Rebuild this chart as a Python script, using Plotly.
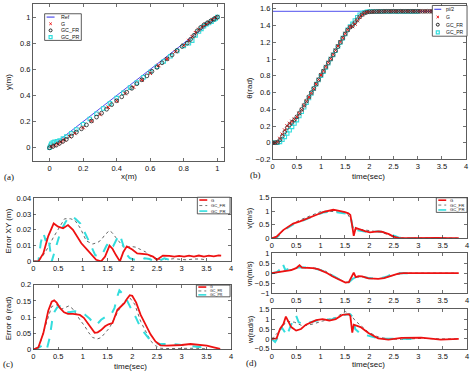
import plotly.graph_objects as go

W, H = 474, 376

# ---------------- data ----------------
# (a) trajectory
A_REF_X = [0, 1]
A_REF_Y = [0, 1]
A_G_X = [0.01,0.03,0.05,0.07,0.09,0.12,0.15,0.2,0.25,0.3,0.35,0.4,0.45,0.5,0.55,0.6,0.65,0.7,0.75,0.8,0.83,0.85,0.87,0.89,0.91,0.93,0.95,0.97,0.99]
A_G_Y = [0.01,0.02,0.03,0.045,0.06,0.085,0.11,0.155,0.205,0.255,0.31,0.36,0.415,0.465,0.52,0.57,0.63,0.68,0.735,0.785,0.82,0.85,0.88,0.905,0.925,0.945,0.96,0.98,0.995]
A_FR_X = [0.00,0.02,0.04,0.06,0.08,0.10,0.13,0.16,0.19,0.22,0.25,0.28,0.31,0.34,0.37,0.40,0.43,0.46,0.49,0.52,0.55,0.58,0.61,0.64,0.67,0.70,0.73,0.76,0.79,0.82,0.84,0.86,0.88,0.90,0.92,0.94,0.96,0.98,1.00]
A_FR_Y = [0.00,0.01,0.02,0.035,0.05,0.065,0.09,0.12,0.145,0.175,0.205,0.235,0.265,0.295,0.33,0.36,0.39,0.425,0.455,0.49,0.52,0.55,0.585,0.615,0.65,0.68,0.71,0.745,0.775,0.80,0.83,0.86,0.895,0.92,0.94,0.955,0.97,0.985,1.00]
A_PR_X = [0,0.005,0.01,0.02,0.03,0.045,0.06,0.08,0.1,0.13,0.16,0.2,0.24,0.28,0.32,0.36,0.4,0.44,0.48,0.52,0.56,0.6,0.64,0.68,0.72,0.76,0.8,0.83,0.85,0.87,0.89,0.905,0.92,0.935,0.95,0.965,0.98,0.99,1.0]
A_PR_Y = [0,0.015,0.03,0.04,0.045,0.05,0.055,0.07,0.085,0.11,0.14,0.18,0.22,0.26,0.3,0.34,0.38,0.42,0.46,0.5,0.54,0.58,0.62,0.66,0.7,0.74,0.78,0.8,0.82,0.86,0.89,0.91,0.93,0.945,0.955,0.965,0.98,0.99,1.0]

# (b) orientation
B_T = [0.00,0.05,0.10,0.15,0.20,0.25,0.30,0.35,0.40,0.45,0.50,0.55,0.60,0.65,0.70,0.75,0.80,0.85,0.90,0.95,
       1.00,1.05,1.10,1.15,1.20,1.25,1.30,1.35,1.40,1.45,1.50,1.55,1.60,1.65,1.70,1.75,1.80,1.85,1.90,1.95,
       2.00,2.05,2.10,2.15,2.20,2.25,2.30,2.35,2.40,2.45,2.50,2.55,2.60,2.65,2.70,2.75,2.80,2.85,2.90,2.95,
       3.00,3.05,3.10,3.15,3.20,3.25,3.30,3.35,3.40,3.45,3.50]
B_REF_T = [0, 3.8]
B_REF = [1.5708, 1.5708]
B_G = [0,0,0.01,0.05,0.1,0.15,0.2,0.23,0.255,0.28,0.31,0.35,0.395,0.445,0.495,0.545,0.595,0.645,0.70,0.755,
       0.81,0.86,0.91,0.96,1.005,1.055,1.105,1.155,1.205,1.255,1.305,1.35,1.38,1.39,1.42,1.46,1.50,1.53,1.55,1.56,
       1.565,1.566,1.567,1.568,1.568,1.569,1.569,1.57,1.57,1.57,1.571,1.57,1.57,1.571,1.57,1.571,1.57,1.57,1.571,1.57,
       1.57,1.571,1.57,1.57,1.571,1.57,1.571,1.57,1.57,1.571,1.57]
B_FR = [0,0,0.005,0.035,0.08,0.13,0.18,0.215,0.245,0.275,0.31,0.355,0.40,0.45,0.50,0.55,0.60,0.65,0.70,0.755,
        0.81,0.855,0.905,0.955,1.00,1.05,1.10,1.15,1.20,1.25,1.30,1.345,1.38,1.40,1.435,1.47,1.505,1.53,1.55,1.56,
        1.565,1.567,1.568,1.568,1.569,1.569,1.57,1.57,1.57,1.57,1.571,1.57,1.57,1.571,1.57,1.57,1.571,1.57,1.571,1.57,
        1.57,1.571,1.57,1.57,1.571,1.57,1.57,1.571,1.57,1.57,1.57]
B_PR = [0,0,0,0.01,0.035,0.07,0.11,0.15,0.19,0.23,0.27,0.32,0.37,0.425,0.48,0.535,0.59,0.645,0.70,0.75,
        0.80,0.85,0.90,0.95,1.00,1.05,1.10,1.15,1.20,1.25,1.30,1.35,1.39,1.42,1.46,1.50,1.53,1.55,1.56,1.565,
        1.567,1.568,1.568,1.569,1.57,1.57,1.57,1.571,1.57,1.57,1.571,1.57,1.57,1.571,1.57,1.57,1.571,1.57,1.57,1.571,
        1.57]

# (c) errors
C_XY_G_T = [0,0.1,0.2,0.3,0.41,0.5,0.6,0.7,0.8,0.97,1.1,1.27,1.37,1.45,1.54,1.6,1.67,1.75,1.82,1.89,2.0,2.1,2.3,2.42,2.5,2.62,2.75,2.85,2.95,3.05,3.15,3.25,3.35,3.45,3.55,3.65,3.75,3.8]
C_XY_G = [0,0,0.005,0.016,0.024,0.022,0.021,0.023,0.02,0.0115,0.007,0.001,0,0.003,0.01,0.008,0.004,0,0.006,0.0095,0.0075,0.005,0.0045,0.003,0.001,0.0037,0.0035,0.003,0.0035,0.003,0.0036,0.003,0.0037,0.003,0.0036,0.0032,0.0038,0.0037]
C_XY_FR_T = [0,0.1,0.2,0.3,0.4,0.5,0.63,0.75,0.84,0.95,1.07,1.2,1.3,1.37,1.45,1.54,1.6,1.67,1.75,1.84,1.97,2.07,2.17,2.27,2.37,2.47,2.57,2.7,2.84,3.0,3.1,3.25,3.38,3.5]
C_XY_FR = [0,0,0.004,0.009,0.015,0.02,0.027,0.027,0.026,0.021,0.013,0.011,0.012,0.0135,0.017,0.0195,0.018,0.015,0.012,0.0085,0.0095,0.009,0.0075,0.006,0.003,0.002,0.001,0.0012,0.0017,0.0012,0.001,0.0015,0.0015,0.001]
C_XY_PR_T = [0,0.1,0.15,0.2,0.25,0.3,0.37,0.45,0.55,0.65,0.72,0.8,0.85,0.95,1.05,1.15,1.25,1.32,1.4,1.48,1.55,1.62,1.7,1.75,1.8,1.87,1.95,2.05,2.15,2.25,2.35,2.45,2.55,2.65,2.75,2.85]
C_XY_PR = [0,0,0.012,0.018,0.013,0.016,0,0.009,0.019,0.025,0.028,0.028,0.027,0.024,0.018,0.011,0.004,0.003,0.005,0.01,0.013,0.01,0.015,0.017,0.012,0.005,0.002,0.001,0.0005,0.002,0.0015,0,0.0005,0.002,0.001,0]

C_TH_G_T = [0,0.1,0.2,0.3,0.37,0.42,0.47,0.54,0.62,0.7,0.8,0.94,1.02,1.1,1.17,1.24,1.3,1.37,1.45,1.52,1.6,1.65,1.7,1.77,1.84,1.9,1.95,2.0,2.08,2.17,2.27,2.37,2.47,2.57,2.7,2.84,3.0,3.18,3.35,3.51,3.65,3.78]
C_TH_G = [0,0.007,0.05,0.12,0.148,0.152,0.145,0.128,0.115,0.11,0.11,0.107,0.098,0.08,0.065,0.052,0.053,0.06,0.072,0.078,0.082,0.1,0.123,0.133,0.143,0.158,0.168,0.166,0.145,0.107,0.075,0.047,0.025,0.013,0.012,0.012,0.014,0.017,0.015,0.012,0.007,0.002]
C_TH_FR_T = [0,0.1,0.23,0.37,0.47,0.57,0.65,0.72,0.8,0.87,0.95,1.04,1.12,1.2,1.3,1.37,1.45,1.54,1.6,1.67,1.75,1.84,1.9,1.95,2.05,2.17,2.27,2.37,2.47,2.57,2.7,2.9,3.1,3.3,3.5]
C_TH_FR = [0,0.002,0.067,0.133,0.138,0.125,0.13,0.135,0.125,0.107,0.09,0.072,0.052,0.037,0.033,0.037,0.05,0.067,0.085,0.107,0.128,0.148,0.158,0.16,0.14,0.087,0.055,0.027,0.012,0.004,0.003,0.004,0.003,0.004,0.002]
C_TH_PR_T = [0,0.1,0.17,0.22,0.27,0.33,0.38,0.43,0.48,0.54,0.6,0.64,0.72,0.84,0.95,1.04,1.14,1.24,1.3,1.37,1.45,1.5,1.58,1.64,1.7,1.74,1.79,1.84,1.9,1.97,2.07,2.17,2.27,2.37,2.47,2.57,2.7,2.84,3.0,3.1,3.25,3.38,3.5]
C_TH_PR = [0,0.005,0.012,0.01,0,0.037,0.09,0.118,0.13,0.133,0.125,0.118,0.115,0.118,0.115,0.108,0.095,0.077,0.08,0.092,0.1,0.102,0.11,0.128,0.165,0.183,0.175,0.163,0.15,0.128,0.1,0.067,0.045,0.027,0.02,0.017,0.017,0.017,0.014,0.012,0.01,0.007,0.005]

# (d) velocities
D_V_G_T = [0,0.1,0.235,0.37,0.44,0.58,0.64,0.78,0.84,1.01,1.05,1.18,1.26,1.31,1.43,1.5,1.57,1.61,1.65,1.68,1.72,1.8,1.91,2.01,2.1,2.18,2.25,2.32,2.4,2.49,2.56,2.63,2.8,3.0,3.2,3.4,3.6,3.83]
D_V_G = [0,0.06,0.3,0.45,0.54,0.62,0.66,0.76,0.79,0.93,0.96,1.03,1.05,1.04,1.0,0.96,0.92,0.86,0.45,0.09,0.38,0.32,0.26,0.22,0.24,0.25,0.24,0.2,0.15,0.06,0.02,0,0,0.01,0,0.01,0,0]
D_V_FR_T = [0,0.1,0.25,0.4,0.55,0.7,0.85,1.0,1.1,1.2,1.3,1.45,1.55,1.62,1.68,1.73,1.8,1.95,2.1,2.25,2.4,2.55,2.7,3.0,3.3,3.6,3.8]
D_V_FR = [0,0.05,0.3,0.5,0.65,0.77,0.88,0.98,1.0,1.0,0.98,0.93,0.9,0.7,0.3,0.35,0.33,0.3,0.27,0.22,0.12,0.04,0.01,0,0.01,0,0]
D_V_PR_T = [0,0.1,0.2,0.3,0.45,0.6,0.75,0.9,1.05,1.2,1.3,1.45,1.55,1.62,1.66,1.7,1.75,1.85,2.0,2.1,2.2,2.3,2.4,2.5,2.6,2.7,2.9]
D_V_PR = [0,0.03,0.2,0.35,0.52,0.62,0.72,0.84,0.95,0.98,0.97,0.93,0.9,0.8,0.35,0.2,0.3,0.27,0.22,0.25,0.25,0.22,0.15,0.08,0.03,0,0]

D_VN_G_T = [0,0.15,0.3,0.4,0.5,0.57,0.62,0.7,0.84,0.95,1.04,1.14,1.24,1.35,1.45,1.51,1.58,1.64,1.68,1.72,1.78,1.85,1.98,2.1,2.18,2.3,2.39,2.5,2.59,2.7,2.79,3.0,3.3,3.6,3.83]
D_VN_G = [0,0.05,0.11,0.15,0.25,0.4,0.28,0.27,0.25,0.2,0.12,0.0,-0.15,-0.28,-0.4,-0.47,-0.45,-0.2,0.03,-0.2,-0.15,-0.16,-0.26,-0.27,-0.28,-0.25,-0.18,-0.1,-0.02,0,0,0,0,0,0]
D_VN_FR_T = [0,0.2,0.4,0.55,0.7,0.9,1.1,1.3,1.5,1.58,1.66,1.75,1.9,2.1,2.3,2.5,2.7,3.0,3.5,3.8]
D_VN_FR = [0,0.08,0.18,0.28,0.3,0.25,0.1,-0.18,-0.45,-0.45,-0.25,-0.2,-0.18,-0.27,-0.25,-0.1,0,0,0,0]
D_VN_PR_T = [0,0.1,0.17,0.22,0.28,0.35,0.45,0.55,0.7,0.9,1.1,1.3,1.51,1.58,1.65,1.72,1.85,2.0,2.2,2.35,2.45,2.55,2.65,2.9]
D_VN_PR = [0,0.05,0.19,0.5,0.15,0.23,0.25,0.3,0.28,0.22,0.08,-0.2,-0.48,-0.45,-0.3,-0.2,-0.17,-0.25,-0.27,-0.18,-0.05,0.03,0,0]

D_W_G_T = [0,0.1,0.17,0.24,0.29,0.4,0.5,0.6,0.7,0.91,1.04,1.18,1.31,1.45,1.58,1.61,1.65,1.68,1.82,1.98,2.18,2.39,2.66,3.06,3.46,3.83]
D_W_G = [0,0.03,0.5,0.75,1.13,0.6,0.42,0.5,0.72,0.95,1.0,0.93,1.0,1.22,1.25,1.16,0.32,0.72,0.6,0.3,0.03,-0.03,0.05,0.07,-0.03,0]
D_W_FR_T = [0,0.17,0.3,0.47,0.64,0.84,1.04,1.31,1.51,1.61,1.71,1.85,1.98,2.18,2.39,2.66,3.06,3.46,3.8]
D_W_FR = [0,0.43,0.9,0.84,0.65,0.75,0.9,1.08,1.38,1.25,0.92,0.6,0.34,0.1,0,-0.02,0.03,0.0,0]
D_W_PR_T = [0,0.07,0.13,0.2,0.27,0.31,0.37,0.44,0.5,0.55,0.64,0.77,0.97,1.24,1.45,1.61,1.67,1.71,1.76,1.82,1.95,2.12,2.32,2.52,2.79,2.9]
D_W_PR = [0,-0.15,0.1,0.6,0.34,0.15,0.55,0.95,1.18,0.85,0.75,0.84,0.95,1.0,1.22,1.24,1.08,0.5,0.4,0.26,0.18,0.07,0.02,0.02,0,0]

X_TICKS_T = [0, 0.5, 1, 1.5, 2, 2.5, 3, 3.5, 4]

# ---------------- style ----------------
RED = "#ee1111"
CYAN = "#33dddd"
GRAY = "#666666"
BLUE = "#5050ee"
FONT = "Liberation Sans, Arial, sans-serif"
SERIF = "Liberation Serif, Times New Roman, serif"
TICK_FS = 7.5

def dxr(a, b):
    return [a / W, b / W]

def dyr(top, bot):
    return [1 - bot / H, 1 - top / H]

def axstyle(**kw):
    d = dict(showline=True, linecolor="#333", linewidth=0.8, mirror="allticks",
             ticks="inside", ticklen=3, tickwidth=0.7, tickcolor="#333",
             showgrid=False, zeroline=False,
             tickfont=dict(family=FONT, size=TICK_FS, color="#111"))
    d.update(kw)
    return d

fig = go.Figure()

def line(x, y, xa, ya, color, width, dash="solid"):
    fig.add_trace(go.Scatter(x=x, y=y, xaxis=xa, yaxis=ya, mode="lines",
                             line=dict(color=color, width=width, dash=dash),
                             showlegend=False, hoverinfo="skip"))

def mark(x, y, xa, ya, symbol, color, size, lw=0.8):
    fig.add_trace(go.Scatter(x=x, y=y, xaxis=xa, yaxis=ya, mode="markers",
                             marker=dict(symbol=symbol, size=size, color=color,
                                         line=dict(color=color, width=lw)),
                             showlegend=False, hoverinfo="skip"))

# (a)
line(A_REF_X, A_REF_Y, "x", "y", BLUE, 1)
mark(A_PR_X, A_PR_Y, "x", "y", "square-open", CYAN, 3.5, 1.1)
mark(A_G_X, A_G_Y, "x", "y", "x-thin-open", RED, 3.5, 1)
mark(A_FR_X, A_FR_Y, "x", "y", "circle-open", "#222", 3.8, 0.8)

# (b)
line(B_REF_T, B_REF, "x2", "y2", BLUE, 1)
mark(B_T[:len(B_PR)], B_PR, "x2", "y2", "square-open", CYAN, 3.5, 1.1)
mark(B_T, B_G, "x2", "y2", "x-thin-open", RED, 3.5, 1)
mark(B_T, B_FR, "x2", "y2", "circle-open", "#333", 3.8, 0.7)

# (c)
line(C_XY_FR_T, C_XY_FR, "x3", "y3", GRAY, 1, "dot")
line(C_XY_PR_T, C_XY_PR, "x3", "y3", CYAN, 2, "dash")
line(C_XY_G_T, C_XY_G, "x3", "y3", RED, 1.8)
line(C_TH_FR_T, C_TH_FR, "x4", "y4", GRAY, 1, "dot")
line(C_TH_PR_T, C_TH_PR, "x4", "y4", CYAN, 2, "dash")
line(C_TH_G_T, C_TH_G, "x4", "y4", RED, 1.8)

# (d)
for xa, ya, (gt, g, ft, f, pt, p) in [
    ("x5", "y5", (D_V_G_T, D_V_G, D_V_FR_T, D_V_FR, D_V_PR_T, D_V_PR)),
    ("x6", "y6", (D_VN_G_T, D_VN_G, D_VN_FR_T, D_VN_FR, D_VN_PR_T, D_VN_PR)),
    ("x7", "y7", (D_W_G_T, D_W_G, D_W_FR_T, D_W_FR, D_W_PR_T, D_W_PR)),
]:
    line(ft, f, xa, ya, GRAY, 1, "dot")
    line(pt, p, xa, ya, CYAN, 2, "dash")
    line(gt, g, xa, ya, RED, 1.8)

lay = dict(width=W, height=H, margin=dict(l=0, r=0, t=0, b=0),
           paper_bgcolor="white", plot_bgcolor="white", showlegend=False)

lay["xaxis"] = axstyle(domain=dxr(31, 224), range=[-0.1, 1.04], anchor="y",
                       tickvals=[0, 0.2, 0.4, 0.6, 0.8, 1])
lay["yaxis"] = axstyle(domain=dyr(0, 160.7), range=[-0.1, 1.1], anchor="x",
                       tickvals=[0, 0.2, 0.4, 0.6, 0.8, 1])
lay["xaxis2"] = axstyle(domain=dxr(273, 468), range=[0, 4], anchor="y2", tickvals=X_TICKS_T)
lay["yaxis2"] = axstyle(domain=dyr(0, 159.3), range=[-0.2, 1.658], anchor="x2",
                        tickvals=[-0.2, 0, 0.2, 0.4, 0.6, 0.8, 1, 1.2, 1.4, 1.6])
lay["xaxis3"] = axstyle(domain=dxr(31.7, 231), range=[0, 4], anchor="y3", tickvals=X_TICKS_T)
lay["yaxis3"] = axstyle(domain=dyr(199, 263.7), range=[0, 0.04], anchor="x3",
                        tickvals=[0, 0.01, 0.02, 0.03, 0.04])
lay["xaxis4"] = axstyle(domain=dxr(31.7, 231), range=[0, 4], anchor="y4", tickvals=X_TICKS_T)
lay["yaxis4"] = axstyle(domain=dyr(287.7, 354), range=[0, 0.2], anchor="x4",
                        tickvals=[0, 0.05, 0.1, 0.15, 0.2])
DX = dxr(272, 469)
lay["xaxis5"] = axstyle(domain=DX, range=[0, 4], anchor="y5", tickvals=X_TICKS_T)
lay["yaxis5"] = axstyle(domain=dyr(198.3, 240), range=[0, 1.5], anchor="x5",
                        tickvals=[0, 0.5, 1, 1.5])
lay["xaxis6"] = axstyle(domain=DX, range=[0, 4], anchor="y6", tickvals=X_TICKS_T)
lay["yaxis6"] = axstyle(domain=dyr(255.3, 296.3), range=[-1, 1], anchor="x6",
                        tickvals=[-1, -0.5, 0, 0.5, 1])
lay["xaxis7"] = axstyle(domain=DX, range=[0, 4], anchor="y7", tickvals=X_TICKS_T)
lay["yaxis7"] = axstyle(domain=dyr(312.7, 353.3), range=[-0.5, 1.5], anchor="x7",
                        tickvals=[-0.5, 0, 0.5, 1, 1.5])

shapes = []
annots = []

def P(x, y):
    return x / W, 1 - y / H

def text(x, y, s, size=8, angle=0, family=FONT, xanchor="center"):
    px, py = P(x, y)
    annots.append(dict(x=px, y=py, xref="paper", yref="paper", text=s, showarrow=False,
                       textangle=angle, xanchor=xanchor, yanchor="middle",
                       font=dict(family=family, size=size, color="#111")))

def legend(x0, y0, x1, y1, entries, fs=5, sx=(3, 10), tx=13):
    a, b = P(x0, y0)
    c, d = P(x1, y1)
    shapes.append(dict(type="rect", xref="paper", yref="paper", x0=a, y0=d, x1=c, y1=b,
                       line=dict(color="#333", width=0.8), fillcolor="white", layer="above"))
    n = len(entries)
    h = (y1 - y0) / n
    for i, (lab, kind, col) in enumerate(entries):
        yc = y0 + h * (i + 0.5)
        s0, s1 = x0 + sx[0], x0 + sx[1]
        cx = (s0 + s1) / 2
        if kind in ("line", "dot", "dash"):
            wdt = {"line": 1.6, "dot": 0.9, "dash": 1.6}[kind]
            dsh = {"line": "solid", "dot": "dot", "dash": "dash"}[kind]
            p0 = P(s0, yc); p1 = P(s1, yc)
            shapes.append(dict(type="line", xref="paper", yref="paper", x0=p0[0], y0=p0[1],
                               x1=p1[0], y1=p1[1], line=dict(color=col, width=wdt, dash=dsh)))
        elif kind == "thin":
            p0 = P(s0, yc); p1 = P(s1, yc)
            shapes.append(dict(type="line", xref="paper", yref="paper", x0=p0[0], y0=p0[1],
                               x1=p1[0], y1=p1[1], line=dict(color=col, width=1.2)))
        elif kind == "x":
            r = 1.2
            for dy_ in (-r, r):
                p0 = P(cx - r, yc - dy_); p1 = P(cx + r, yc + dy_)
                shapes.append(dict(type="line", xref="paper", yref="paper", x0=p0[0], y0=p0[1],
                                   x1=p1[0], y1=p1[1], line=dict(color=col, width=1)))
        elif kind in ("o", "sq"):
            r = 1.5
            p0 = P(cx - r, yc + r); p1 = P(cx + r, yc - r)
            shapes.append(dict(type="circle" if kind == "o" else "rect", xref="paper", yref="paper",
                               x0=p0[0], y0=p0[1], x1=p1[0], y1=p1[1],
                               line=dict(color=col, width=1 if kind == "o" else 1.2)))
        text(x0 + tx, yc, lab, size=fs, xanchor="left")

legend(43, 10, 80, 37.3, [("Ref", "thin", BLUE), ("G", "x", RED), ("GC_FR", "o", "#222"), ("GC_PR", "sq", CYAN)],
       fs=5.3, sx=(2, 10), tx=14)
legend(434, 1.5, 469, 33, [("pi/2", "thin", BLUE), ("G", "x", RED), ("GC_FR", "o", "#222"), ("GC_PR", "sq", CYAN)],
       fs=5, sx=(2, 9), tx=12)
legend(197, 198, 230, 215, [("G", "line", RED), ("GC_FR", "dot", GRAY), ("GC_PR", "dash", CYAN)],
       fs=4.2, sx=(2, 10), tx=12)
legend(196, 288, 230, 300, [("G", "line", RED), ("GC_FR", "dot", GRAY), ("GC_PR", "dash", CYAN)],
       fs=3.6, sx=(2, 10), tx=12)
legend(438, 198.5, 469, 213.5, [("G", "line", RED), ("GC_FR", "dot", GRAY), ("GC_PR", "dash", CYAN)],
       fs=4.2, sx=(2, 10), tx=12)

# axis titles and panel labels
text(128, 177, "x(m)", 8)
text(6, 80, "y(m)", 8, -90)
text(7, 177, "(a)", 9, family=SERIF)
text(250, 86, "θ(rad)", 8, -90)
text(370, 177, "time(sec)", 8)
text(256, 175, "(b)", 9, family=SERIF)
text(6, 232, "Error XY (m)", 8, -90)
text(6, 322, "Error θ (rad)", 8, -90)
text(130, 371, "time(sec)", 8)
text(6, 369, "(c)", 9, family=SERIF)
text(250, 219, "v(m/s)", 7.5, -90)
text(250, 276, "vn(m/s)", 7.5, -90)
text(250, 333, "w(rad/s)", 7.5, -90)
text(370, 369, "time(sec)", 8)
text(252, 368, "(d)", 9, family=SERIF)

lay["shapes"] = shapes
lay["annotations"] = annots
fig.update_layout(**lay)
fig.write_html("out.html", config={"displayModeBar": False, "staticPlot": True},
               post_script="document.body.style.margin='0';document.body.style.padding='0';"
                           "document.body.style.overflow='hidden';")
